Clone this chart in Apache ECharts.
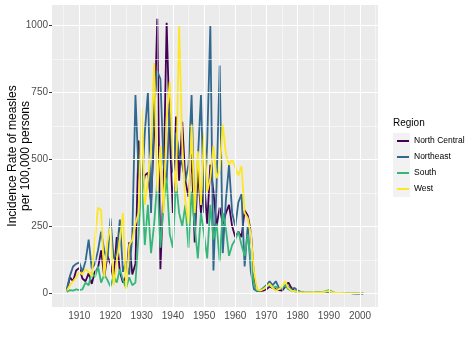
<!DOCTYPE html>
<html><head><meta charset="utf-8">
<script src="https://cdn.jsdelivr.net/npm/echarts@6/dist/echarts.min.js"></script>
<style>html,body{margin:0;padding:0;background:#fff}#c{width:474px;height:338px}</style>
</head><body><div id="c"></div>
<script>
const years = [1906,1907,1908,1909,1910,1911,1912,1913,1914,1915,
1916,1917,1918,1919,1920,1921,1922,1923,1924,1925,
1926,1927,1928,1929,1930,1931,1932,1933,1934,1935,
1936,1937,1938,1939,1940,1941,1942,1943,1944,1945,
1946,1947,1948,1949,1950,1951,1952,1953,1954,1955,
1956,1957,1958,1959,1960,1961,1962,1963,1964,1965,
1966,1967,1968,1969,1970,1971,1972,1973,1974,1975,
1976,1977,1978,1979,1980,1981,1982,1983,1984,1985,
1986,1987,1988,1989,1990,1991,1992,1993,1994,1995,
1996,1997,1998,1999,2000,2001];

const northCentral = [10,60,45,85,95,55,45,75,35,80,
95,160,60,140,110,50,210,80,40,65,
190,70,110,570,370,440,450,340,600,1025,
90,400,1010,600,300,660,420,640,420,360,
520,190,460,300,420,260,480,380,250,320,
260,300,330,250,210,230,210,310,290,230,
60,10,8,10,15,25,20,15,12,10,
25,40,20,8,5,2,1,1,1,1,
2,2,1,4,5,2,1,0.5,0.5,0.3,
0.3,0.2,0.1,0.1,0.1,0.1];

const northeast = [15,65,100,110,115,80,120,200,90,110,
160,230,160,120,280,130,150,275,80,120,
70,220,740,450,370,600,750,300,700,830,
800,480,420,700,450,600,520,480,420,480,
740,240,500,740,300,560,1000,85,400,850,
150,350,480,300,250,340,370,100,250,80,
15,8,10,20,30,45,30,45,20,15,
30,25,15,20,10,5,3,2,2,2,
3,2,2,5,6,3,1,0.5,0.5,0.3,
0.3,0.2,0.2,0.1,0.1,0.1];

const south = [5,12,10,15,12,15,40,30,80,60,
100,40,70,50,25,65,40,90,50,20,
60,30,40,220,440,180,330,150,260,420,
170,330,430,220,170,420,300,250,330,170,
380,250,130,300,220,130,330,200,260,120,
300,240,140,180,200,230,180,140,220,120,
30,10,12,18,25,30,20,25,15,20,
30,15,10,8,5,3,2,2,2,3,
3,3,4,8,12,6,1,0.5,0.5,0.3,
0.3,0.2,0.1,0.1,0.1,0.1];

const west = [10,30,45,60,80,70,90,80,65,200,
320,310,60,190,250,30,120,200,300,15,
180,200,260,300,690,330,420,540,860,380,
550,300,650,790,500,380,1000,560,340,260,
630,300,530,330,600,380,430,550,430,460,
630,520,480,500,470,440,475,300,280,220,
80,15,10,15,25,35,20,10,15,25,
45,20,10,8,4,3,2,2,2,3,
3,3,3,6,8,4,2,1,1,0.5,
0.5,0.4,0.3,0.3,0.2,0.2];

const regionNames = ['North Central','Northeast','South','West'];
const regionColors = ['#440154','#31688E','#35B779','#FDE725'];
const xTicks = [1910,1920,1930,1940,1950,1960,1970,1980,1990,2000];
const xMinor = [1905,1915,1925,1935,1945,1955,1965,1975,1985,1995,2005];
const yTicks = [0,250,500,750,1000];
const yMinor = [125,375,625,875];

const font = '"Liberation Sans", Arial, sans-serif';
const chart = echarts.init(document.getElementById('c'), null, {renderer:'canvas'});
function pairs(v){ return years.map((y,i)=>[y, v[i]]); }
const gridLines = [];
xMinor.forEach(v=>gridLines.push({xAxis:v, lineStyle:{color:'#fff', width:0.5, type:'solid'}}));
yMinor.forEach(v=>gridLines.push({yAxis:v, lineStyle:{color:'#fff', width:0.5, type:'solid'}}));
xTicks.forEach(v=>gridLines.push({xAxis:v, lineStyle:{color:'#fff', width:1.1, type:'solid'}}));
yTicks.forEach(v=>gridLines.push({yAxis:v, lineStyle:{color:'#fff', width:1.1, type:'solid'}}));

const dataSets = [northCentral, northeast, south, west];
const series = [{
  type:'line', data:[], z:1, silent:true,
  markLine:{silent:true, symbol:['none','none'], label:{show:false}, animation:false,
    lineStyle:{type:'solid', color:'#fff'}, emphasis:{disabled:true}, data:gridLines}
}];
regionNames.forEach((n,i)=>{
  series.push({name:n, type:'line', data:pairs(dataSets[i]), symbol:'none', showSymbol:false, z:3,
    lineStyle:{color:regionColors[i], width:1.8}, itemStyle:{color:regionColors[i]},
    emphasis:{disabled:true}});
});

chart.setOption({
  animation:false,
  backgroundColor:'#ffffff',
  title:{text:'Region', left:393, top:118, padding:0,
    textStyle:{fontSize:10, fontWeight:'normal', color:'#000', fontFamily:font}},
  legend:{data:regionNames.map(n=>({name:n, icon:'rect'})), orient:'vertical', left:397, top:133, padding:0, itemGap:0,
    itemWidth:12, itemHeight:2, selectedMode:false,
    textStyle:{fontSize:8.5, color:'#000', fontFamily:font, lineHeight:16, height:16}},
  graphic:[{type:'rect', z:0, silent:true, shape:{x:393, y:133, width:17, height:64}, style:{fill:'#F2F2F2'}}],
  grid:{left:52, right:96, top:5, bottom:31, show:true, backgroundColor:'#EBEBEB', borderWidth:0,
    containLabel:false, outerBoundsMode:'none'},
  xAxis:{type:'value', min:1901.25, max:2005.75,
    splitLine:{show:false}, axisLine:{show:false},
    axisTick:{show:true, customValues:xTicks, length:3, lineStyle:{color:'#333333', width:1}},
    axisLabel:{customValues:xTicks, color:'#4D4D4D', fontSize:10, margin:4, fontFamily:font,
      formatter:v=>String(v)}},
  yAxis:{type:'value', min:-51.25, max:1076.25,
    splitLine:{show:false}, axisLine:{show:false},
    axisTick:{show:true, customValues:yTicks, length:3, lineStyle:{color:'#333333', width:1}},
    axisLabel:{customValues:yTicks, color:'#4D4D4D', fontSize:10, margin:4, fontFamily:font,
      formatter:v=>String(v)},
    name:'Incidence Rate of measles\nper 100,000 persons', nameLocation:'middle', nameGap:20,
    nameMoveOverlap:false,
    nameTextStyle:{fontSize:12, color:'#000', lineHeight:13, fontFamily:font}},
  series:series
});
</script></body></html>
